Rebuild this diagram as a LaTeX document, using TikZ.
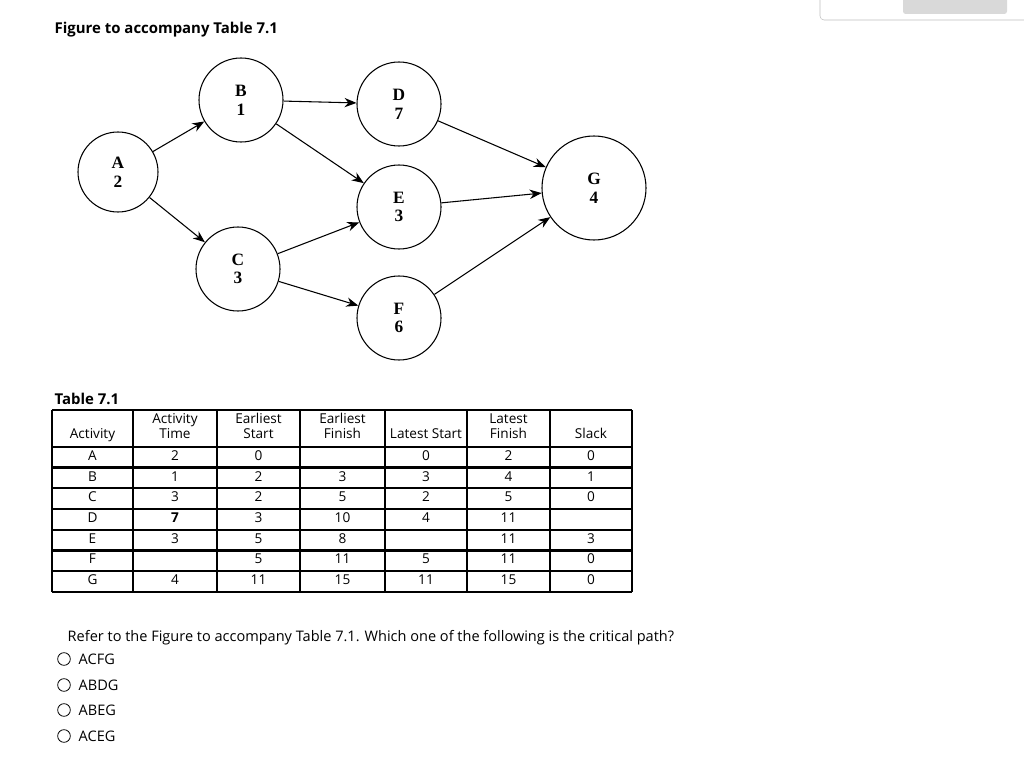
\documentclass[tikz,border=0pt]{standalone}
\usepackage{fontspec}
\setmainfont{Open Sans}
\newfontfamily\tms{Liberation Serif}
\usetikzlibrary{arrows.meta}
\begin{document}
\begin{tikzpicture}[x=0.75pt,y=-0.75pt,
  act/.style={circle,draw,line width=0.8pt,align=center,font=\tms\bfseries\fontsize{13}{14}\selectfont,inner sep=0pt},
  arr/.style={-{Stealth[length=9pt,width=7pt]},line width=0.8pt},
  cell/.style={font=\fontsize{10.2}{11}\selectfont,align=center,inner sep=0pt},
  opt/.style={circle,draw,inner sep=0pt,minimum size=9.5pt,line width=0.6pt}]
\useasboundingbox (0,0) rectangle (1024,770);
% header fragment
\draw[gray!50,rounded corners=3pt] (820,-5) -- (820,20) -- (1030,20);
\fill[gray!30,rounded corners=2pt] (903,-5) rectangle (1007,14);
\node[anchor=west,font=\bfseries\fontsize{11.2}{12}\selectfont] (title) at (50,30) {Figure to accompany Table 7.1};
% network
\node[act,minimum size=80pt*0.75] (A) at (118,172) {A\\2};
\node[act,minimum size=84pt*0.75] (B) at (241,100) {B\\1};
\node[act,minimum size=84pt*0.75] (D) at (399,104) {D\\7};
\node[act,minimum size=84pt*0.75] (E) at (399,207) {E\\3};
\node[act,minimum size=84pt*0.75] (C) at (238,269) {C\\3};
\node[act,minimum size=84pt*0.75] (F) at (399,318) {F\\6};
\node[act,minimum size=104pt*0.75] (G) at (594,188) {G\\4};
\foreach \a/\b in {A/B,A/C,B/D,B/E,C/E,C/F,D/G,E/G,F/G}
  \draw[arr] (\a) -- (\b);
% table
\node[anchor=west,font=\bfseries\fontsize{11.2}{12}\selectfont] (tt) at (50,399) {Table 7.1};
\foreach \x in {52,133,217,300,385,467,550,632} \draw[line width=1.6pt] (\x,410) -- (\x,592);
\foreach \y in {410,447,467.5,488,509,530,550.5,571,592} \draw[line width=1.6pt] (52,\y) -- (632,\y);
\node[cell,anchor=south] (h1) at (92.5,443) {\strut Activity};
\node[cell,anchor=south] (h2) at (175,443) {Activity\\\strut Time};
\node[cell,anchor=south] (h3) at (258.5,443) {Earliest\\\strut Start};
\node[cell,anchor=south] (h4) at (342.5,443) {Earliest\\\strut Finish};
\node[cell,anchor=south] (h5) at (426,443) {\strut Latest Start};
\node[cell,anchor=south] (h6) at (508.5,443) {Latest\\\strut Finish};
\node[cell,anchor=south] (h7) at (591,443) {\strut Slack};
\foreach \cx/\vals [count=\i] in {92.5/{A,B,C,D,E,F,G},175/{2,1,3,\textbf{7},3,{},4},258.5/{0,2,2,3,5,5,11},342.5/{{},3,5,10,8,11,15},426/{0,3,2,4,{},5,11},508.5/{2,4,5,11,11,11,15},591/{0,1,0,{},3,0,0}}{
  \foreach \v/\cy [count=\j] in \vals {
    \pgfmathsetmacro\yy{457.5+20.7*(\j-1)}
    \node[cell] (c\i-\j) at (\cx,\yy) {\strut\v};
  }
}
% question
\node[anchor=west,font=\fontsize{10.9}{12}\selectfont] (q) at (63,638) {Refer to the Figure to accompany Table 7.1. Which one of the following is the critical path?};
\foreach \t/\y [count=\k] in {ACFG/659,ABDG/685,ABEG/710,ACEG/736}{
  \node[opt] (o\k) at (64,\y) {};
  \node[anchor=west,font=\fontsize{10.9}{12}\selectfont] (t\k) at (74,\y) {\t};
}
\end{tikzpicture}
\end{document}
